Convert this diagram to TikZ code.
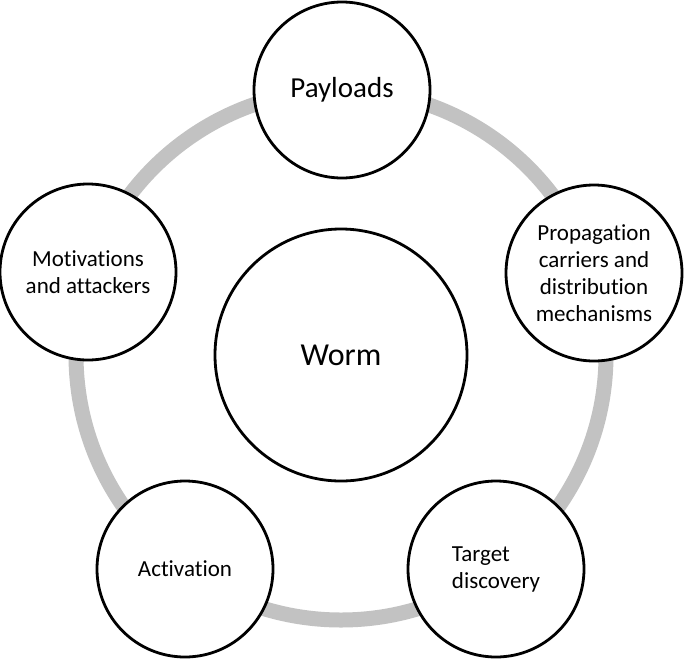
\documentclass[tikz,border=0pt]{standalone}
\usepackage{fontspec}
\setmainfont{Carlito}[Ligatures=NoCommon]
\usepackage{tikz}

\begin{document}
\begin{tikzpicture}[x=1pt,y=-1pt,
  part/.style={circle,draw,line width=2.8pt,fill=white,minimum size=176pt,
    inner sep=0pt,align=center,font=\fontsize{23}{27}\selectfont},
  ring/.style={line width=15pt,draw=black!24}]
\useasboundingbox (0,0) rectangle (685,659);
\node[part,minimum size=252pt,font=\fontsize{32}{36}\selectfont] (worm) at (341,355) {Worm};
\draw[ring] (worm.center) circle (265);
\node[part,font=\fontsize{29}{32}\selectfont] (payloads) at (342,90) {Payloads};
\node[part] (propagation) at (594,273) {Propagation\\carriers and\\distribution\\mechanisms};
\node[part,align=left] (target) at (496,569) {Target\\discovery};
\node[part] (activation) at (185,569) {Activation};
\node[part] (motivations) at (88,272) {Motivations\\and attackers};
\end{tikzpicture}
\end{document}
